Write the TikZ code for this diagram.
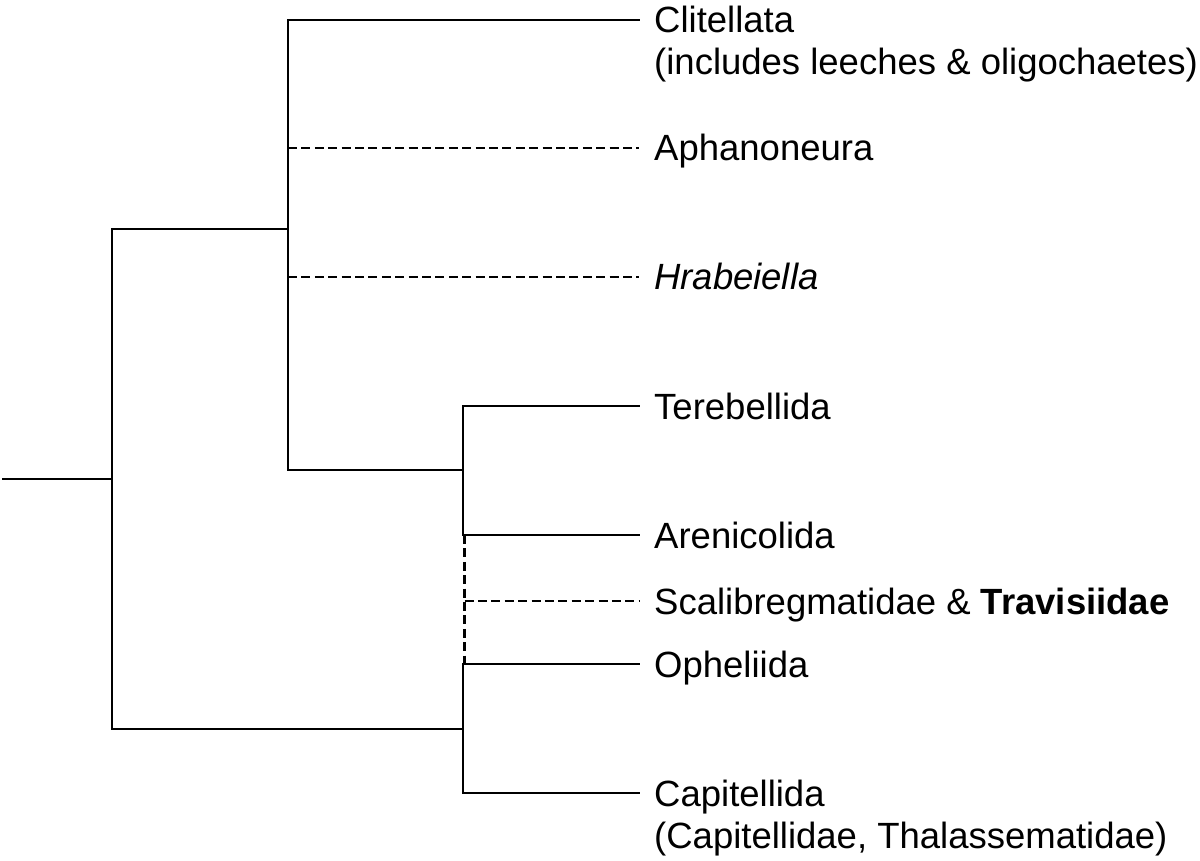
\documentclass[tikz,border=0pt]{standalone}
\usepackage{fontspec}
\setmainfont{Liberation Sans}
\begin{document}
\begin{tikzpicture}[x=1pt,y=-1pt,
  branch/.style={line width=2.3pt,line cap=rect},
  uncertain/.style={line width=2.3pt,dash pattern=on 9pt off 4.4pt},
  taxon/.style={anchor=base west,inner sep=0pt,font=\fontsize{36.5}{42}\selectfont}]
\useasboundingbox (0,0) rectangle (1200,861);
% internal nodes
\coordinate (r0) at (3,479);
\coordinate (n1) at (112,479);
\coordinate (n2) at (288,229);
\coordinate (n3) at (463,729);
\coordinate (n4) at (463,470);
% tips
\coordinate (t1) at (639,20);
\coordinate (t2) at (639,148);
\coordinate (t3) at (639,277);
\coordinate (t4) at (639,406);
\coordinate (t5) at (639,535);
\coordinate (t6) at (639,601);
\coordinate (t7) at (639,664);
\coordinate (t8) at (639,793);
% solid branches
\draw[branch] (r0) -- (n1);
\draw[branch] (n2) -| (n1) |- (n3);
\draw[branch] (t1) -| (n2) |- (n4);
\draw[branch] (n2) -- (n2 |- n4);
\draw[branch] (t4) -| (n4) |- (t5);
\draw[branch] (t7) -| (n3) |- (t8);
% uncertain branches
\draw[uncertain] (n2 |- t2) -- (t2);
\draw[uncertain] (n2 |- t3) -- (t3);
\draw[uncertain] ([xshift=1.5pt]n4 |- t5) -- ([xshift=1.5pt]n4 |- t7);
\draw[uncertain] ([xshift=1.5pt]n4 |- t6) -- (t6);
% labels
\node[taxon] (l1) at (654,33) {Clitellata};
\node[taxon] (l1b) at (654,75) {(includes leeches \& oligochaetes)};
\node[taxon] (l2) at (654,161) {Aphanoneura};
\node[taxon] (l3) at (654,290) {\itshape Hrabeiella};
\node[taxon] (l4) at (654,419) {Terebellida};
\node[taxon] (l5) at (654,548) {Arenicolida};
\node[taxon] (l6) at (654,614) {Scalibregmatidae \& \textbf{Travisiidae}};
\node[taxon] (l7) at (654,677) {Opheliida};
\node[taxon] (l8) at (654,806) {Capitellida};
\node[taxon] (l8b) at (654,848) {(Capitellidae, Thalassematidae)};
\end{tikzpicture}
\end{document}
